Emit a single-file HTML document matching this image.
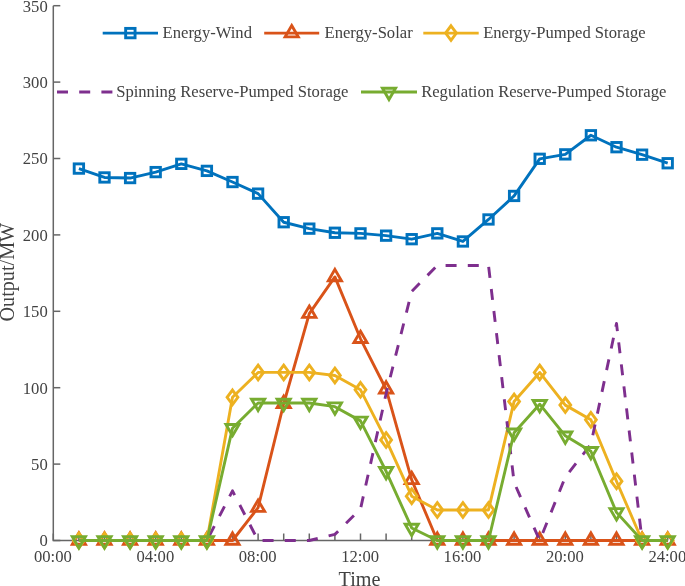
<!DOCTYPE html><html><head><meta charset="utf-8"><title>Output chart</title><style>html,body{margin:0;padding:0;background:#fff}svg{display:block}text{font-family:"Liberation Serif","Times New Roman",serif;fill:#424242}</style></head><body>
<svg width="685" height="586" viewBox="0 0 685 586">
<rect width="685" height="586" fill="#fff"/>
<g stroke="#666666" stroke-width="1.5" fill="none">
<path d="M53.30,5.70 V540.50 H667.70"/>
<path d="M53.30,540.50 h7"/>
<path d="M53.30,464.10 h7"/>
<path d="M53.30,387.70 h7"/>
<path d="M53.30,311.30 h7"/>
<path d="M53.30,234.90 h7"/>
<path d="M53.30,158.50 h7"/>
<path d="M53.30,82.10 h7"/>
<path d="M53.30,5.70 h7"/>
<path d="M53.30,540.50 v-7"/>
<path d="M78.90,540.50 v-7"/>
<path d="M104.50,540.50 v-7"/>
<path d="M130.10,540.50 v-7"/>
<path d="M155.70,540.50 v-7"/>
<path d="M181.30,540.50 v-7"/>
<path d="M206.90,540.50 v-7"/>
<path d="M232.50,540.50 v-7"/>
<path d="M258.10,540.50 v-7"/>
<path d="M283.70,540.50 v-7"/>
<path d="M309.30,540.50 v-7"/>
<path d="M334.90,540.50 v-7"/>
<path d="M360.50,540.50 v-7"/>
<path d="M386.10,540.50 v-7"/>
<path d="M411.70,540.50 v-7"/>
<path d="M437.30,540.50 v-7"/>
<path d="M462.90,540.50 v-7"/>
<path d="M488.50,540.50 v-7"/>
<path d="M514.10,540.50 v-7"/>
<path d="M539.70,540.50 v-7"/>
<path d="M565.30,540.50 v-7"/>
<path d="M590.90,540.50 v-7"/>
<path d="M616.50,540.50 v-7"/>
<path d="M642.10,540.50 v-7"/>
<path d="M667.70,540.50 v-7"/>
</g>
<text x="47.7" y="546.40" font-size="16.6" text-anchor="end">0</text>
<text x="47.7" y="470.00" font-size="16.6" text-anchor="end">50</text>
<text x="47.7" y="393.60" font-size="16.6" text-anchor="end">100</text>
<text x="47.7" y="317.20" font-size="16.6" text-anchor="end">150</text>
<text x="47.7" y="240.80" font-size="16.6" text-anchor="end">200</text>
<text x="47.7" y="164.40" font-size="16.6" text-anchor="end">250</text>
<text x="47.7" y="88.00" font-size="16.6" text-anchor="end">300</text>
<text x="47.7" y="11.60" font-size="16.6" text-anchor="end">350</text>
<text x="52.90" y="561.6" font-size="16.6" text-anchor="middle">00:00</text>
<text x="155.30" y="561.6" font-size="16.6" text-anchor="middle">04:00</text>
<text x="257.70" y="561.6" font-size="16.6" text-anchor="middle">08:00</text>
<text x="360.10" y="561.6" font-size="16.6" text-anchor="middle">12:00</text>
<text x="462.50" y="561.6" font-size="16.6" text-anchor="middle">16:00</text>
<text x="564.90" y="561.6" font-size="16.6" text-anchor="middle">20:00</text>
<text x="667.30" y="561.6" font-size="16.6" text-anchor="middle">24:00</text>
<text x="359.5" y="585.5" font-size="20.2" text-anchor="middle">Time</text>
<text transform="translate(14.3,272.2) rotate(-90)" font-size="20.2" text-anchor="middle">Output/MW</text>
<polyline points="78.90,168.58 104.50,177.45 130.10,178.06 155.70,172.10 181.30,163.85 206.90,170.88 232.50,182.03 258.10,193.64 283.70,222.22 309.30,228.64 334.90,232.76 360.50,233.37 386.10,235.66 411.70,239.18 437.30,233.37 462.90,241.47 488.50,219.47 514.10,195.94 539.70,158.81 565.30,154.37 590.90,135.27 616.50,147.19 642.10,154.68 667.70,163.24" fill="none" stroke="#0072BD" stroke-width="2.9" stroke-linejoin="round"/><rect x="74.20" y="163.88" width="9.4" height="9.4" fill="none" stroke="#0072BD" stroke-width="2.9"/><rect x="99.80" y="172.75" width="9.4" height="9.4" fill="none" stroke="#0072BD" stroke-width="2.9"/><rect x="125.40" y="173.36" width="9.4" height="9.4" fill="none" stroke="#0072BD" stroke-width="2.9"/><rect x="151.00" y="167.40" width="9.4" height="9.4" fill="none" stroke="#0072BD" stroke-width="2.9"/><rect x="176.60" y="159.15" width="9.4" height="9.4" fill="none" stroke="#0072BD" stroke-width="2.9"/><rect x="202.20" y="166.18" width="9.4" height="9.4" fill="none" stroke="#0072BD" stroke-width="2.9"/><rect x="227.80" y="177.33" width="9.4" height="9.4" fill="none" stroke="#0072BD" stroke-width="2.9"/><rect x="253.40" y="188.94" width="9.4" height="9.4" fill="none" stroke="#0072BD" stroke-width="2.9"/><rect x="279.00" y="217.52" width="9.4" height="9.4" fill="none" stroke="#0072BD" stroke-width="2.9"/><rect x="304.60" y="223.94" width="9.4" height="9.4" fill="none" stroke="#0072BD" stroke-width="2.9"/><rect x="330.20" y="228.06" width="9.4" height="9.4" fill="none" stroke="#0072BD" stroke-width="2.9"/><rect x="355.80" y="228.67" width="9.4" height="9.4" fill="none" stroke="#0072BD" stroke-width="2.9"/><rect x="381.40" y="230.96" width="9.4" height="9.4" fill="none" stroke="#0072BD" stroke-width="2.9"/><rect x="407.00" y="234.48" width="9.4" height="9.4" fill="none" stroke="#0072BD" stroke-width="2.9"/><rect x="432.60" y="228.67" width="9.4" height="9.4" fill="none" stroke="#0072BD" stroke-width="2.9"/><rect x="458.20" y="236.77" width="9.4" height="9.4" fill="none" stroke="#0072BD" stroke-width="2.9"/><rect x="483.80" y="214.77" width="9.4" height="9.4" fill="none" stroke="#0072BD" stroke-width="2.9"/><rect x="509.40" y="191.24" width="9.4" height="9.4" fill="none" stroke="#0072BD" stroke-width="2.9"/><rect x="535.00" y="154.11" width="9.4" height="9.4" fill="none" stroke="#0072BD" stroke-width="2.9"/><rect x="560.60" y="149.67" width="9.4" height="9.4" fill="none" stroke="#0072BD" stroke-width="2.9"/><rect x="586.20" y="130.57" width="9.4" height="9.4" fill="none" stroke="#0072BD" stroke-width="2.9"/><rect x="611.80" y="142.49" width="9.4" height="9.4" fill="none" stroke="#0072BD" stroke-width="2.9"/><rect x="637.40" y="149.98" width="9.4" height="9.4" fill="none" stroke="#0072BD" stroke-width="2.9"/><rect x="663.00" y="158.54" width="9.4" height="9.4" fill="none" stroke="#0072BD" stroke-width="2.9"/>
<polyline points="78.90,540.50 104.50,540.50 130.10,540.50 155.70,540.50 181.30,540.50 206.90,540.50 232.50,540.50 258.10,507.65 283.70,403.74 309.30,313.59 334.90,276.92 360.50,338.80 386.10,389.23 411.70,479.84 437.30,540.50 462.90,540.50 488.50,540.50 514.10,540.50 539.70,540.50 565.30,540.50 590.90,540.50 616.50,540.50 642.10,540.50 667.70,540.50" fill="none" stroke="#D95319" stroke-width="2.9" stroke-linejoin="round"/><polygon points="78.90,532.97 85.45,544.27 72.35,544.27" fill="none" stroke="#D95319" stroke-width="2.9" stroke-linejoin="miter"/><polygon points="104.50,532.97 111.05,544.27 97.95,544.27" fill="none" stroke="#D95319" stroke-width="2.9" stroke-linejoin="miter"/><polygon points="130.10,532.97 136.65,544.27 123.55,544.27" fill="none" stroke="#D95319" stroke-width="2.9" stroke-linejoin="miter"/><polygon points="155.70,532.97 162.25,544.27 149.15,544.27" fill="none" stroke="#D95319" stroke-width="2.9" stroke-linejoin="miter"/><polygon points="181.30,532.97 187.85,544.27 174.75,544.27" fill="none" stroke="#D95319" stroke-width="2.9" stroke-linejoin="miter"/><polygon points="206.90,532.97 213.45,544.27 200.35,544.27" fill="none" stroke="#D95319" stroke-width="2.9" stroke-linejoin="miter"/><polygon points="232.50,532.97 239.05,544.27 225.95,544.27" fill="none" stroke="#D95319" stroke-width="2.9" stroke-linejoin="miter"/><polygon points="258.10,500.11 264.65,511.41 251.55,511.41" fill="none" stroke="#D95319" stroke-width="2.9" stroke-linejoin="miter"/><polygon points="283.70,396.21 290.25,407.51 277.15,407.51" fill="none" stroke="#D95319" stroke-width="2.9" stroke-linejoin="miter"/><polygon points="309.30,306.06 315.85,317.36 302.75,317.36" fill="none" stroke="#D95319" stroke-width="2.9" stroke-linejoin="miter"/><polygon points="334.90,269.39 341.45,280.69 328.35,280.69" fill="none" stroke="#D95319" stroke-width="2.9" stroke-linejoin="miter"/><polygon points="360.50,331.27 367.05,342.57 353.95,342.57" fill="none" stroke="#D95319" stroke-width="2.9" stroke-linejoin="miter"/><polygon points="386.10,381.69 392.65,392.99 379.55,392.99" fill="none" stroke="#D95319" stroke-width="2.9" stroke-linejoin="miter"/><polygon points="411.70,472.31 418.25,483.61 405.15,483.61" fill="none" stroke="#D95319" stroke-width="2.9" stroke-linejoin="miter"/><polygon points="437.30,532.97 443.85,544.27 430.75,544.27" fill="none" stroke="#D95319" stroke-width="2.9" stroke-linejoin="miter"/><polygon points="462.90,532.97 469.45,544.27 456.35,544.27" fill="none" stroke="#D95319" stroke-width="2.9" stroke-linejoin="miter"/><polygon points="488.50,532.97 495.05,544.27 481.95,544.27" fill="none" stroke="#D95319" stroke-width="2.9" stroke-linejoin="miter"/><polygon points="514.10,532.97 520.65,544.27 507.55,544.27" fill="none" stroke="#D95319" stroke-width="2.9" stroke-linejoin="miter"/><polygon points="539.70,532.97 546.25,544.27 533.15,544.27" fill="none" stroke="#D95319" stroke-width="2.9" stroke-linejoin="miter"/><polygon points="565.30,532.97 571.85,544.27 558.75,544.27" fill="none" stroke="#D95319" stroke-width="2.9" stroke-linejoin="miter"/><polygon points="590.90,532.97 597.45,544.27 584.35,544.27" fill="none" stroke="#D95319" stroke-width="2.9" stroke-linejoin="miter"/><polygon points="616.50,532.97 623.05,544.27 609.95,544.27" fill="none" stroke="#D95319" stroke-width="2.9" stroke-linejoin="miter"/><polygon points="642.10,532.97 648.65,544.27 635.55,544.27" fill="none" stroke="#D95319" stroke-width="2.9" stroke-linejoin="miter"/><polygon points="667.70,532.97 674.25,544.27 661.15,544.27" fill="none" stroke="#D95319" stroke-width="2.9" stroke-linejoin="miter"/>
<polyline points="78.90,540.50 104.50,540.50 130.10,540.50 155.70,540.50 181.30,540.50 206.90,540.50 232.50,397.33 258.10,372.42 283.70,372.42 309.30,372.42 334.90,375.48 360.50,389.84 386.10,439.96 411.70,496.19 437.30,509.94 462.90,509.94 488.50,509.94 514.10,401.45 539.70,372.42 565.30,405.12 590.90,419.79 616.50,481.21 642.10,540.50 667.70,540.50" fill="none" stroke="#EDB120" stroke-width="2.9" stroke-linejoin="round"/><polygon points="78.90,533.20 84.30,540.50 78.90,547.80 73.50,540.50" fill="none" stroke="#EDB120" stroke-width="2.9" stroke-linejoin="miter"/><polygon points="104.50,533.20 109.90,540.50 104.50,547.80 99.10,540.50" fill="none" stroke="#EDB120" stroke-width="2.9" stroke-linejoin="miter"/><polygon points="130.10,533.20 135.50,540.50 130.10,547.80 124.70,540.50" fill="none" stroke="#EDB120" stroke-width="2.9" stroke-linejoin="miter"/><polygon points="155.70,533.20 161.10,540.50 155.70,547.80 150.30,540.50" fill="none" stroke="#EDB120" stroke-width="2.9" stroke-linejoin="miter"/><polygon points="181.30,533.20 186.70,540.50 181.30,547.80 175.90,540.50" fill="none" stroke="#EDB120" stroke-width="2.9" stroke-linejoin="miter"/><polygon points="206.90,533.20 212.30,540.50 206.90,547.80 201.50,540.50" fill="none" stroke="#EDB120" stroke-width="2.9" stroke-linejoin="miter"/><polygon points="232.50,390.03 237.90,397.33 232.50,404.63 227.10,397.33" fill="none" stroke="#EDB120" stroke-width="2.9" stroke-linejoin="miter"/><polygon points="258.10,365.12 263.50,372.42 258.10,379.72 252.70,372.42" fill="none" stroke="#EDB120" stroke-width="2.9" stroke-linejoin="miter"/><polygon points="283.70,365.12 289.10,372.42 283.70,379.72 278.30,372.42" fill="none" stroke="#EDB120" stroke-width="2.9" stroke-linejoin="miter"/><polygon points="309.30,365.12 314.70,372.42 309.30,379.72 303.90,372.42" fill="none" stroke="#EDB120" stroke-width="2.9" stroke-linejoin="miter"/><polygon points="334.90,368.18 340.30,375.48 334.90,382.78 329.50,375.48" fill="none" stroke="#EDB120" stroke-width="2.9" stroke-linejoin="miter"/><polygon points="360.50,382.54 365.90,389.84 360.50,397.14 355.10,389.84" fill="none" stroke="#EDB120" stroke-width="2.9" stroke-linejoin="miter"/><polygon points="386.10,432.66 391.50,439.96 386.10,447.26 380.70,439.96" fill="none" stroke="#EDB120" stroke-width="2.9" stroke-linejoin="miter"/><polygon points="411.70,488.89 417.10,496.19 411.70,503.49 406.30,496.19" fill="none" stroke="#EDB120" stroke-width="2.9" stroke-linejoin="miter"/><polygon points="437.30,502.64 442.70,509.94 437.30,517.24 431.90,509.94" fill="none" stroke="#EDB120" stroke-width="2.9" stroke-linejoin="miter"/><polygon points="462.90,502.64 468.30,509.94 462.90,517.24 457.50,509.94" fill="none" stroke="#EDB120" stroke-width="2.9" stroke-linejoin="miter"/><polygon points="488.50,502.64 493.90,509.94 488.50,517.24 483.10,509.94" fill="none" stroke="#EDB120" stroke-width="2.9" stroke-linejoin="miter"/><polygon points="514.10,394.15 519.50,401.45 514.10,408.75 508.70,401.45" fill="none" stroke="#EDB120" stroke-width="2.9" stroke-linejoin="miter"/><polygon points="539.70,365.12 545.10,372.42 539.70,379.72 534.30,372.42" fill="none" stroke="#EDB120" stroke-width="2.9" stroke-linejoin="miter"/><polygon points="565.30,397.82 570.70,405.12 565.30,412.42 559.90,405.12" fill="none" stroke="#EDB120" stroke-width="2.9" stroke-linejoin="miter"/><polygon points="590.90,412.49 596.30,419.79 590.90,427.09 585.50,419.79" fill="none" stroke="#EDB120" stroke-width="2.9" stroke-linejoin="miter"/><polygon points="616.50,473.91 621.90,481.21 616.50,488.51 611.10,481.21" fill="none" stroke="#EDB120" stroke-width="2.9" stroke-linejoin="miter"/><polygon points="642.10,533.20 647.50,540.50 642.10,547.80 636.70,540.50" fill="none" stroke="#EDB120" stroke-width="2.9" stroke-linejoin="miter"/><polygon points="667.70,533.20 673.10,540.50 667.70,547.80 662.30,540.50" fill="none" stroke="#EDB120" stroke-width="2.9" stroke-linejoin="miter"/>
<polyline points="78.90,540.50 104.50,540.50 130.10,540.50 155.70,540.50 181.30,540.50 206.90,540.50 232.50,490.84 258.10,540.50 283.70,540.50 309.30,540.50 334.90,534.39 360.50,509.02 386.10,393.81 411.70,291.44 437.30,265.46 462.90,265.46 488.50,265.46 514.10,482.44 539.70,540.50 565.30,477.09 590.90,444.24 616.50,323.52 642.10,540.50 667.70,540.50" fill="none" stroke="#7E2F8E" stroke-width="2.9" stroke-linejoin="round" stroke-dasharray="11 11.2"/>
<polyline points="78.90,540.50 104.50,540.50 130.10,540.50 155.70,540.50 181.30,540.50 206.90,540.50 232.50,428.19 258.10,402.98 283.70,402.98 309.30,402.98 334.90,406.65 360.50,420.86 386.10,471.28 411.70,527.97 437.30,540.50 462.90,540.50 488.50,540.50 514.10,432.78 539.70,404.20 565.30,435.83 590.90,451.26 616.50,512.38 642.10,540.50 667.70,540.50" fill="none" stroke="#77AC30" stroke-width="2.9" stroke-linejoin="round"/><polygon points="78.90,548.03 85.45,536.73 72.35,536.73" fill="none" stroke="#77AC30" stroke-width="2.9" stroke-linejoin="miter"/><polygon points="104.50,548.03 111.05,536.73 97.95,536.73" fill="none" stroke="#77AC30" stroke-width="2.9" stroke-linejoin="miter"/><polygon points="130.10,548.03 136.65,536.73 123.55,536.73" fill="none" stroke="#77AC30" stroke-width="2.9" stroke-linejoin="miter"/><polygon points="155.70,548.03 162.25,536.73 149.15,536.73" fill="none" stroke="#77AC30" stroke-width="2.9" stroke-linejoin="miter"/><polygon points="181.30,548.03 187.85,536.73 174.75,536.73" fill="none" stroke="#77AC30" stroke-width="2.9" stroke-linejoin="miter"/><polygon points="206.90,548.03 213.45,536.73 200.35,536.73" fill="none" stroke="#77AC30" stroke-width="2.9" stroke-linejoin="miter"/><polygon points="232.50,435.73 239.05,424.43 225.95,424.43" fill="none" stroke="#77AC30" stroke-width="2.9" stroke-linejoin="miter"/><polygon points="258.10,410.51 264.65,399.21 251.55,399.21" fill="none" stroke="#77AC30" stroke-width="2.9" stroke-linejoin="miter"/><polygon points="283.70,410.51 290.25,399.21 277.15,399.21" fill="none" stroke="#77AC30" stroke-width="2.9" stroke-linejoin="miter"/><polygon points="309.30,410.51 315.85,399.21 302.75,399.21" fill="none" stroke="#77AC30" stroke-width="2.9" stroke-linejoin="miter"/><polygon points="334.90,414.18 341.45,402.88 328.35,402.88" fill="none" stroke="#77AC30" stroke-width="2.9" stroke-linejoin="miter"/><polygon points="360.50,428.39 367.05,417.09 353.95,417.09" fill="none" stroke="#77AC30" stroke-width="2.9" stroke-linejoin="miter"/><polygon points="386.10,478.81 392.65,467.51 379.55,467.51" fill="none" stroke="#77AC30" stroke-width="2.9" stroke-linejoin="miter"/><polygon points="411.70,535.50 418.25,524.20 405.15,524.20" fill="none" stroke="#77AC30" stroke-width="2.9" stroke-linejoin="miter"/><polygon points="437.30,548.03 443.85,536.73 430.75,536.73" fill="none" stroke="#77AC30" stroke-width="2.9" stroke-linejoin="miter"/><polygon points="462.90,548.03 469.45,536.73 456.35,536.73" fill="none" stroke="#77AC30" stroke-width="2.9" stroke-linejoin="miter"/><polygon points="488.50,548.03 495.05,536.73 481.95,536.73" fill="none" stroke="#77AC30" stroke-width="2.9" stroke-linejoin="miter"/><polygon points="514.10,440.31 520.65,429.01 507.55,429.01" fill="none" stroke="#77AC30" stroke-width="2.9" stroke-linejoin="miter"/><polygon points="539.70,411.74 546.25,400.44 533.15,400.44" fill="none" stroke="#77AC30" stroke-width="2.9" stroke-linejoin="miter"/><polygon points="565.30,443.37 571.85,432.07 558.75,432.07" fill="none" stroke="#77AC30" stroke-width="2.9" stroke-linejoin="miter"/><polygon points="590.90,458.80 597.45,447.50 584.35,447.50" fill="none" stroke="#77AC30" stroke-width="2.9" stroke-linejoin="miter"/><polygon points="616.50,519.92 623.05,508.62 609.95,508.62" fill="none" stroke="#77AC30" stroke-width="2.9" stroke-linejoin="miter"/><polygon points="642.10,548.03 648.65,536.73 635.55,536.73" fill="none" stroke="#77AC30" stroke-width="2.9" stroke-linejoin="miter"/><polygon points="667.70,548.03 674.25,536.73 661.15,536.73" fill="none" stroke="#77AC30" stroke-width="2.9" stroke-linejoin="miter"/>
<path d="M102.7,33.1 H158" stroke="#0072BD" stroke-width="2.9" fill="none"/><rect x="125.65" y="28.40" width="9.4" height="9.4" fill="none" stroke="#0072BD" stroke-width="2.9"/><text x="162.6" y="38.0" font-size="16.6">Energy-Wind</text>
<path d="M264.2,33.1 H319.2" stroke="#D95319" stroke-width="2.9" fill="none"/><polygon points="291.70,25.57 298.25,36.87 285.15,36.87" fill="none" stroke="#D95319" stroke-width="2.9" stroke-linejoin="miter"/><text x="324.5" y="38.0" font-size="16.6">Energy-Solar</text>
<path d="M423.3,33.1 H478.7" stroke="#EDB120" stroke-width="2.9" fill="none"/><polygon points="451.00,25.80 456.40,33.10 451.00,40.40 445.60,33.10" fill="none" stroke="#EDB120" stroke-width="2.9" stroke-linejoin="miter"/><text x="483.2" y="38.0" font-size="16.6">Energy-Pumped Storage</text>
<path d="M57,92 H112.5" stroke="#7E2F8E" stroke-width="2.9" fill="none" stroke-dasharray="11 11.2"/><text x="116.2" y="96.9" font-size="16.6">Spinning Reserve-Pumped Storage</text>
<path d="M361,92 H417" stroke="#77AC30" stroke-width="2.9" fill="none"/><polygon points="389.00,99.53 395.55,88.23 382.45,88.23" fill="none" stroke="#77AC30" stroke-width="2.9" stroke-linejoin="miter"/><text x="421.2" y="96.9" font-size="16.6">Regulation Reserve-Pumped Storage</text>
</svg></body></html>
